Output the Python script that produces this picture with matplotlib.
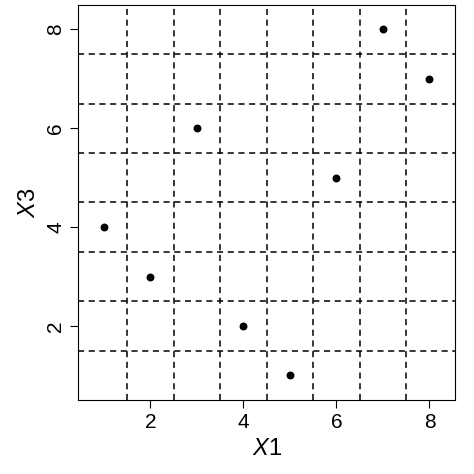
import matplotlib
matplotlib.use("Agg")
import matplotlib.pyplot as plt

plt.rcParams['font.family'] = ['Liberation Sans', 'DejaVu Sans']
plt.rcParams['mathtext.fontset'] = 'custom'
plt.rcParams['mathtext.it'] = 'Liberation Sans:italic'
plt.rcParams['mathtext.rm'] = 'Liberation Sans'

x1 = [1, 2, 3, 4, 5, 6, 7, 8]
x3 = [4, 3, 6, 2, 1, 5, 8, 7]
grid = [1.5, 2.5, 3.5, 4.5, 5.5, 6.5, 7.5]
ticks = [2, 4, 6, 8]

fig = plt.figure(figsize=(4.74, 4.74), dpi=100)
ax = fig.add_axes([0.165, 0.156, 0.795, 0.834])
for g in grid:
    ax.axvline(g, color="black", ls=(0, (4, 3)), lw=1.1)
    ax.axhline(g, color="black", ls=(0, (4, 3)), lw=1.1)
ax.scatter(x1, x3, s=22, color="black", zorder=3)
ax.set_xlim(0.45, 8.55)
ax.set_ylim(0.5, 8.5)
ax.set_xticks(ticks)
ax.set_yticks(ticks)
ax.tick_params(labelsize=15, length=6)
for lab in ax.get_yticklabels():
    lab.set_rotation(90)
    lab.set_va("center")
ax.set_xlabel("$X$1", fontsize=17)
ax.set_ylabel("$X$3", fontsize=17)
fig.savefig("out.png", dpi=100)
